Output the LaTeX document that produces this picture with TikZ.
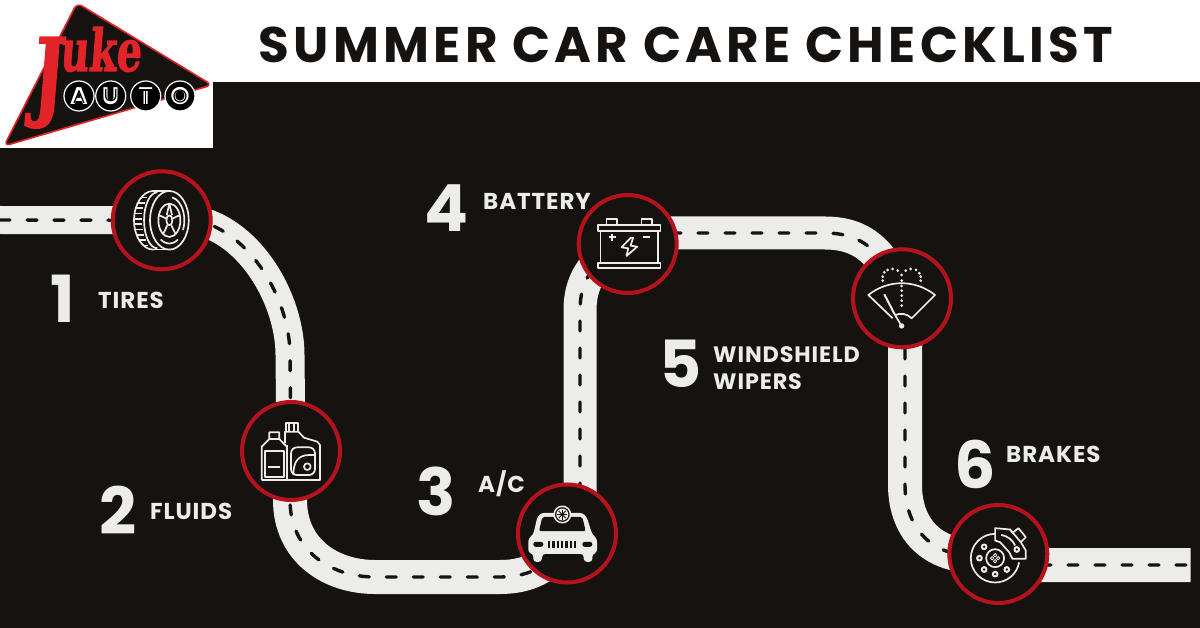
\documentclass[tikz,border=0pt]{standalone}
\usepackage{fontspec}
\setmainfont{Poppins}[LetterSpace=4]
\newfontfamily\numfont{Poppins}
\newfontfamily\titlefont{Poppins}[LetterSpace=8.5]
\newfontfamily\logofont{DejaVu Serif}[FakeSlant=0.12,FakeBold=2]
\usetikzlibrary{backgrounds}
\definecolor{darkColor}{RGB}{21,18,16}
\definecolor{roadColor}{RGB}{236,236,235}
\definecolor{ringColor}{RGB}{181,18,27}
\definecolor{logoRed}{RGB}{226,35,40}
\tikzset{
  stopring/.style={circle,draw=ringColor,line width=4pt,fill=darkColor,minimum size=98pt,inner sep=0pt},
  roadline/.style={draw=roadColor,line width=#1,postaction={draw=darkColor,line width=3.4pt,line cap=round,dash pattern=on 10pt off 17pt}},
  stepnum/.style={text=roadColor,anchor=base,inner sep=0pt,font=\numfont\bfseries\fontsize{65}{65}\selectfont},
  steplabel/.style={text=roadColor,anchor=base west,inner sep=0pt,align=left,font=\bfseries\fontsize{23}{27}\selectfont},
  autocoin/.style={circle,draw=white,line width=1.2pt,fill=black,minimum size=30pt,inner sep=0pt,text=white,font=\numfont\bfseries\fontsize{24}{24}\selectfont},
  icon/.style={x=0.3333pt,y=-0.3333pt,draw=roadColor,line width=1.7pt,line join=round},
}
\begin{document}
\begin{tikzpicture}[x=1pt,y=-1pt]
\path[use as bounding box] (0,0) rectangle (1200,628);

\node[stopring] (tires) at (161.7,220.3) {};
\node[stopring] (fluids) at (291,451) {};
\node[stopring] (ac) at (567,533.5) {};
\node[stopring] (battery) at (627.7,244) {};
\node[stopring] (wipers) at (902,298.3) {};
\node[stopring] (brakes) at (998.3,554) {};
\coordinate (roadstart) at (0,220);
\coordinate (roadend) at (1190.5,565);

\begin{scope}[on background layer]
\path[fill=white] (0,0) rectangle (1200,628);
\path[fill=darkColor] (0,82) rectangle (1200,628);
\path[fill=white] (0,82) rectangle (213,148);
\path[roadline=28pt] (roadstart) -- (tires.center);
\path[roadline=29pt] (tires.center) .. controls (235,205) and (290,290) .. (290,355) -- (fluids.center);
\path[roadline=34pt] (fluids.center) -- (290,500) .. controls (290,550) and (330,577) .. (375,577) -- (500,577) .. controls (530,577) and (555,565) .. (ac.center);
\path[roadline=33pt] (ac.center) -- (580,534) -- (580,310) .. controls (580,285) and (590,260) .. (battery.center);
\path[roadline=33pt] (battery.center) -- (628,233) -- (825,233) .. controls (865,233) and (885,255) .. (wipers.center);
\path[roadline=34pt] (wipers.center) -- (905,298) -- (905,485) .. controls (905,530) and (935,565) .. (brakes.center);
\path[roadline=34pt] (brakes.center) -- (998,565) -- (roadend);
\end{scope}

% logo
\path[fill=darkColor,draw=logoRed,line width=1.6pt,rounded corners=6pt] (77,3) -- (212,85) -- (4,146) -- cycle;
\node[text=logoRed,anchor=base west,inner sep=0pt,xscale=0.68,font=\logofont\bfseries\fontsize{58}{58}\selectfont] (juke) at (31,71) {\raisebox{-37pt}{\fontsize{97}{97}\selectfont J}\kern-4pt uke};
\node[autocoin] (autoA) at (79,96) {A};
\node[autocoin] (autoU) at (110.7,96) {U};
\node[autocoin] (autoT) at (145.7,96) {T};
\node[autocoin] (autoO) at (180,96) {O};
\draw[black,line width=1.2pt] (74,103) -- (79,91) -- (84,103);
\draw[black,line width=1.2pt] (105.7,89) -- (105.7,97) .. controls (105.7,102) and (115.7,102) .. (115.7,97) -- (115.7,89);
\draw[black,line width=1.2pt] (139,90) -- (152,90) (145.7,90) -- (145.7,104);
\draw[black,line width=1.2pt] (180,96) circle[radius=6];

% title
\node[anchor=base,inner sep=0pt,text=darkColor,font=\titlefont\bfseries\fontsize{50}{50}\selectfont] (title) at (686,63) {SUMMER CAR CARE CHECKLIST};

% numbers and labels
\node[stepnum] (num1) at (63,323) {1};
\node[steplabel] (lab1) at (98,309) {TIRES};
\node[stepnum] (num2) at (118,534) {2};
\node[steplabel] (lab2) at (150,519) {FLUIDS};
\node[stepnum] (num3) at (436,515) {3};
\node[steplabel] (lab3) at (478,492) {A/C};
\node[stepnum] (num4) at (446,232) {4};
\node[steplabel] (lab4) at (483,210) {BATTERY};
\node[stepnum] (num5) at (681,388) {5};
\node[steplabel,anchor=north west,font=\bfseries\fontsize{22.3}{27}\selectfont] (lab5) at (713,346) {WINDSHIELD\\WIPERS};
\node[stepnum] (num6) at (975,488) {6};
\node[steplabel] (lab6) at (1006,462) {BRAKES};

% tire
\begin{scope}[shift={(tires.center)},icon,shift={(-185,-180)}]
\draw (208,180) ellipse[x radius=58,y radius=88];
\draw (160,92) -- (208,92);
\draw (160,268) -- (208,268);
\draw (160,92) arc[start angle=-90,end angle=-270,x radius=58,y radius=88];
\draw (172,96) arc[start angle=-90,end angle=-270,x radius=40,y radius=84];
\foreach \xa/\xb/\yy in {123/141/112,113/134/128,107/130/144,104/127/160,102/126/176,103/126/192,105/128/208,110/131/224,118/137/240,130/145/256} {\draw (\xa,\yy) -- (\xb,\yy);}
\draw (208,180) ++(-80:45 and 70) arc[start angle=-80,end angle=25,x radius=45,y radius=70];
\draw (208,180) ++(55:45 and 70) arc[start angle=55,end angle=125,x radius=45,y radius=70];
\draw (208,180) ellipse[x radius=33,y radius=50];
\draw (208,180) ellipse[x radius=9,y radius=15];
\draw (208,130) -- (200,165) (208,130) -- (216,165) (178,165) -- (199,175) (238,165) -- (217,175) (190,220) -- (202,195) (226,220) -- (214,195);
\end{scope}

% bottles
\begin{scope}[shift={(fluids.center)},icon,shift={(-183,-183)}]
\draw (95,270) -- (95,170) -- (118,147) -- (118,127) -- (148,127) -- (148,147) -- (170,170);
\draw (118,147) -- (148,147);
\draw (95,270) -- (270,270) -- (270,165) -- (262,155) -- (222,143) -- (205,125) -- (165,125) -- (165,160);
\draw (172,165) -- (172,270);
\draw (167,125) -- (167,98) -- (205,98) -- (205,125);
\draw (178,98) -- (178,122) (192,98) -- (192,122);
\draw (105,182) rectangle (163,260);
\draw (115,232) -- (150,232);
\draw[rounded corners=6pt] (183,255) -- (183,172) -- (255,172) -- (255,255) -- cycle;
\draw (190,255) .. controls (190,215) and (205,195) .. (238,195) -- (255,195);
\draw (232,230) circle[radius=10];
\end{scope}

% car
\begin{scope}[shift={(ac.center)},icon,shift={(-186,-175)}]
\path[fill=roadColor,rounded corners=3pt] (70,233) -- (70,190) -- (85,178) -- (97,125) -- (110,113) -- (232,113) -- (245,125) -- (262,178) -- (276,190) -- (276,233) -- (262,236) -- (262,260) -- (237,260) -- (235,236) -- (112,236) -- (110,260) -- (85,260) -- (85,236) -- cycle;
\path[fill=darkColor,rounded corners=2pt] (112,125) -- (232,125) -- (242,168) -- (102,168) -- cycle;
\path[fill=darkColor,rounded corners=2.4pt] (85,200) rectangle (115,215);
\path[fill=darkColor,rounded corners=2.4pt] (232,200) rectangle (262,215);
\foreach \xx in {133,146,159,172,185,198,211} {\path[fill=darkColor] (\xx-4,198) rectangle (\xx+3,217);}
\path[fill=roadColor] (172,118) circle[radius=27];
\path[fill=darkColor] (172,118) circle[radius=22];
\path[fill=roadColor] (172,118) circle[radius=18];
\foreach \aa in {0,45,...,315} {\draw[darkColor,line width=0.9pt] (172,118) -- ++(\aa:15);}
\path[fill=darkColor] (172,118) circle[radius=4];
\end{scope}

% battery
\begin{scope}[shift={(battery.center)},icon,shift={(-188.5,-177)}]
\draw (100,120) rectangle (287,137);
\draw (107,137) rectangle (280,235);
\draw (100,235) rectangle (287,250);
\draw (125,120) -- (125,103) -- (157,103) -- (157,120);
\draw (230,120) -- (230,103) -- (262,103) -- (262,120);
\draw (132,157) -- (152,157) (142,147) -- (142,167);
\draw (235,157) -- (255,157);
\draw (198,158) -- (170,187) -- (190,190) -- (185,213) -- (217,185) -- (197,182) -- (205,158) -- cycle;
\end{scope}

% wiper
\begin{scope}[shift={(wipers.center)},icon,shift={(-186,-175)}]
\draw (158,235) -- (85,165) .. controls (145,118) and (225,118) .. (285,165) -- (215,235) .. controls (200,220) and (180,218) .. (165,226);
\draw[line width=2pt] (133,163) -- (165,225);
\draw (165,225) -- (185,258);
\path[fill=roadColor] (185,258) circle[radius=8];
\foreach \xx/\yy in {128/122,128/110,133/97,143/90,158/87,173/92,185/105,197/92,212/87,228/90,238/100,242/110,242/122,185/122,185/138,185/152,185/167,185/182,185/197}
{\path[fill=roadColor] (\xx,\yy) circle[radius=4.5];}
\end{scope}

% brake disc
\begin{scope}[shift={(brakes.center)},icon,shift={(-189.5,-175.5)}]
\draw (180,115) arc[start angle=-90,end angle=-350,radius=73];
\draw (180,188) circle[radius=27];
\foreach \xx/\yy in {147/154,133/188,147/222,180/236,215/222} {\draw[line width=2pt] (\xx,\yy) circle[radius=7];}
\foreach \xx/\yy in {180/179,171/188,189/188,180/197} {\draw[line width=0.9pt] (\xx,\yy) circle[radius=5];}
\path[fill=darkColor] (180,98) -- (225,102) -- (232,112) -- (250,98) -- (272,125) -- (257,140) -- (272,165) -- (272,190) -- (232,190) -- (222,170) -- (195,140) -- (180,135) -- cycle;
\draw (180,98) -- (225,102) -- (232,112) -- (250,98) -- (272,125) -- (257,140) -- (272,165) -- (272,190) -- (232,190) -- (222,170) -- (195,140) -- (180,135) -- cycle;
\draw (198,118) .. controls (218,122) and (232,133) .. (240,150);
\draw (225,102) -- (257,140);
\draw[line width=2pt] (245,162) circle[radius=7];
\end{scope}
\end{tikzpicture}
\end{document}
